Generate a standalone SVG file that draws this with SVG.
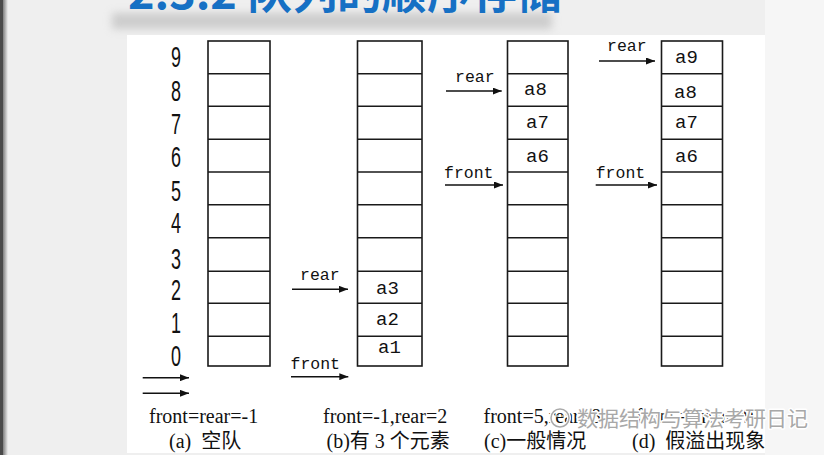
<svg xmlns="http://www.w3.org/2000/svg" width="824" height="455" viewBox="0 0 824 455">
<defs>
<marker id="ah" markerUnits="userSpaceOnUse" markerWidth="9" markerHeight="7" refX="9" refY="3.5" orient="auto">
<path d="M0,0 L9,3.5 L0,7 z" fill="#111"/>
</marker>
<filter id="blur" x="-10%" y="-80%" width="120%" height="260%"><feGaussianBlur stdDeviation="4"/></filter>
<linearGradient id="edge" x1="0" x2="1" y1="0" y2="0"><stop offset="0" stop-color="#3a3a3a"/><stop offset="1" stop-color="#efefef"/></linearGradient>
</defs>
<style>
.box{fill:none;stroke:#1a1a1a;stroke-width:1.6}
.ln{stroke:#1a1a1a;stroke-width:1.6}
.arr{stroke:#111;stroke-width:1.4;fill:none;marker-end:url(#ah)}
.mono{font-family:"Liberation Mono","DejaVu Sans Mono",monospace;font-size:16.5px;fill:#111}
.cell{font-family:"Liberation Mono","DejaVu Sans Mono",monospace;font-size:19px;fill:#111}
.idx{font-family:"Liberation Sans",Arial,sans-serif;font-size:29px;fill:#111;text-anchor:middle}
.cap{font-family:"Liberation Serif","Noto Sans CJK SC",serif;font-size:20px;fill:#111;white-space:pre}
.wm{font-family:"Noto Sans CJK SC","Liberation Sans",sans-serif;font-size:21px;fill:#a8a8a8;stroke:#fff;stroke-width:3;paint-order:stroke;stroke-linejoin:round}
</style>
<rect x="0" y="0" width="824" height="455" fill="#efefef"/>
<rect x="765" y="0" width="59" height="455" fill="#f6f6f6"/>
<rect x="0" y="0" width="8" height="455" fill="url(#edge)"/>
<rect x="0" y="0" width="3" height="455" fill="#4a4a4a"/>
<rect x="112" y="13" width="440" height="16" fill="#b0b0b0" opacity="0.55" filter="url(#blur)"/>
<text x="128" y="9" font-family="'Noto Sans CJK SC',sans-serif" font-size="45" font-weight="bold" fill="#1670c4">2.3.2 队列的顺序存储</text>
<rect x="127" y="35" width="638" height="418" fill="#ffffff"/>

<g id="index">
<g transform="scale(0.62,1)">
<text class="idx" x="283.9" y="67">9</text>
<text class="idx" x="283.9" y="101.5">8</text>
<text class="idx" x="283.9" y="134">7</text>
<text class="idx" x="283.9" y="167">6</text>
<text class="idx" x="283.9" y="201">5</text>
<text class="idx" x="283.9" y="233">4</text>
<text class="idx" x="283.9" y="269">3</text>
<text class="idx" x="283.9" y="300">2</text>
<text class="idx" x="283.9" y="333">1</text>
<text class="idx" x="283.9" y="366">0</text>
</g>
</g>

<g id="queue-a">
<rect class="box" x="208" y="41" width="62" height="325"/>
<path class="ln" d="M208,73.7H270M208,106.3H270M208,139.3H270M208,172H270M208,204.7H270M208,237.7H270M208,271.2H270M208,303.3H270M208,336.3H270"/>
<text class="cap" x="149" y="423">front=rear=-1</text>
<text class="cap" x="169" y="448">(a)  空队</text>
</g>

<g id="queue-b">
<rect class="box" x="357.5" y="41" width="64.5" height="325"/>
<path class="ln" d="M357.5,73.7H422M357.5,106.3H422M357.5,139.3H422M357.5,172H422M357.5,204.7H422M357.5,237.7H422M357.5,271.2H422M357.5,303.3H422M357.5,336.3H422"/>
<text class="cell" x="376" y="294">a3</text>
<text class="cell" x="376" y="325">a2</text>
<text class="cell" x="378" y="353">a1</text>
<text class="mono" x="300" y="280">rear</text>
<text class="mono" x="290.5" y="369">front</text>
<text class="cap" x="323" y="423">front=-1,rear=2</text>
<text class="cap" x="326.5" y="448">(b)有 3 个元素</text>
</g>

<g id="queue-c">
<rect class="box" x="507.5" y="41" width="60.5" height="325"/>
<path class="ln" d="M507.5,73.7H568M507.5,106.3H568M507.5,139.3H568M507.5,172H568M507.5,204.7H568M507.5,237.7H568M507.5,271.2H568M507.5,303.3H568M507.5,336.3H568"/>
<text class="cell" x="524" y="95">a8</text>
<text class="cell" x="526" y="128.3">a7</text>
<text class="cell" x="526" y="161.7">a6</text>
<text class="mono" x="455" y="81.7">rear</text>
<text class="mono" x="444" y="178.3">front</text>
<text class="cap" x="483.5" y="423">front=5,rear=8</text>
<text class="cap" x="484" y="448">(c)一般情况</text>
</g>

<g id="queue-d">
<rect class="box" x="661.5" y="41" width="61" height="325"/>
<path class="ln" d="M661.5,73.7H722.5M661.5,106.3H722.5M661.5,139.3H722.5M661.5,172H722.5M661.5,204.7H722.5M661.5,237.7H722.5M661.5,271.2H722.5M661.5,303.3H722.5M661.5,336.3H722.5"/>
<text class="cell" x="675" y="63.3">a9</text>
<text class="cell" x="674" y="98.3">a8</text>
<text class="cell" x="675" y="128.3">a7</text>
<text class="cell" x="675" y="161.7">a6</text>
<text class="mono" x="607" y="51">rear</text>
<text class="mono" x="595.7" y="178.3">front</text>
<text class="cap" x="636" y="423">front=5,rear=9</text>
<text class="cap" x="632" y="448">(d)  假溢出现象</text>
</g>

<g id="connectors">
<line class="arr" x1="142.7" y1="377.7" x2="189" y2="377.7"/>
<line class="arr" x1="142.7" y1="393.3" x2="189" y2="393.3"/>
<line class="arr" x1="292" y1="289.3" x2="348" y2="289.3"/>
<line class="arr" x1="291" y1="376.7" x2="348.3" y2="376.7"/>
<line class="arr" x1="446" y1="91" x2="501.7" y2="91"/>
<line class="arr" x1="445" y1="185" x2="503" y2="185"/>
<line class="arr" x1="599" y1="61" x2="655" y2="61"/>
<line class="arr" x1="595.7" y1="185" x2="657" y2="185"/>
</g>

<g id="watermark">
<circle cx="560" cy="418" r="9" fill="none" stroke="#ffffff" stroke-width="4"/>
<circle cx="560" cy="418" r="9" fill="none" stroke="#aaaaaa" stroke-width="1.5"/>
<circle cx="557" cy="416" r="1.2" fill="#aaaaaa"/>
<circle cx="563" cy="416" r="1.2" fill="#aaaaaa"/>
<text class="wm" x="577" y="426">数据结构与算法考研日记</text>
</g>
</svg>
